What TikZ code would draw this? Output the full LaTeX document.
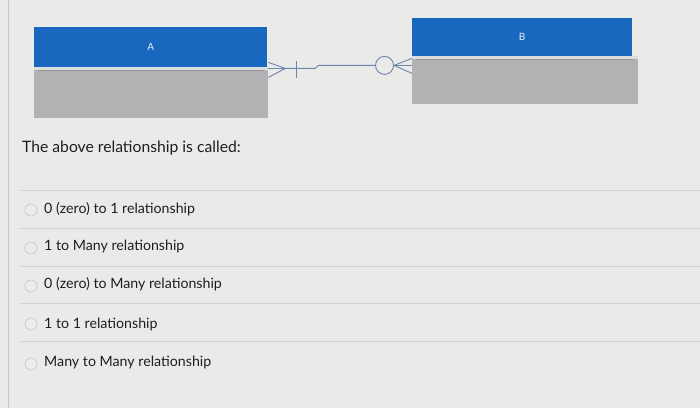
\documentclass[tikz,border=0pt]{standalone}
\usepackage{fontspec}
\setmainfont{Lato}
\definecolor{bgGray}{RGB}{234,234,233}
\definecolor{headBlue}{RGB}{24,104,192}
\definecolor{bodyGray}{RGB}{178,178,180}
\definecolor{ruleGray}{RGB}{210,210,210}
\definecolor{connBlue}{RGB}{105,135,170}
\definecolor{textDark}{RGB}{30,30,34}
\tikzset{
  head/.style={fill=headBlue, text=white!90!headBlue, anchor=north west, inner sep=0pt, font=\fontsize{10}{11}\selectfont},
  body/.style={fill=bodyGray, anchor=north west, inner sep=0pt},
  conn/.style={draw=connBlue, line width=0.9pt},
  radio/.style={circle, draw=gray!45, fill=white!85!gray, line width=0.6pt, minimum size=12pt, inner sep=0pt},
  option/.style={anchor=west, text=textDark, inner sep=0pt, font=\fontsize{14.2}{16}\selectfont},
  rule/.style={draw=ruleGray, line width=0.8pt}
}
\begin{document}
\begin{tikzpicture}[x=1pt,y=-1pt]
\fill[bgGray] (0,0) rectangle (700,408);
\useasboundingbox (0,0) rectangle (700,408);
\draw[gray!45, line width=0.6pt] (8,0) -- (8,408);

% entity A
\node[head, minimum width=233pt, minimum height=40pt] (aHead) at (34,27) {A};
\node[body, minimum width=234pt, minimum height=50pt] (aBody) at (aHead.south west) {};
\fill[white!55!bodyGray] (aBody.north west) rectangle ([yshift=-2.5pt]aBody.north east);
\draw[gray!85, line width=0.9pt] ([xshift=4pt,yshift=-3pt]aBody.north west) -- ([xshift=-4pt,yshift=-3pt]aBody.north east);

% entity B
\node[head, minimum width=220pt, minimum height=38pt] (bHead) at (412,18) {B};
\node[body, minimum width=226pt, minimum height=47pt] (bBody) at (bHead.south west) {};
\fill[white!55!bodyGray] (bBody.north west) rectangle ([yshift=-2.5pt]bBody.north east);
\draw[gray!85, line width=0.9pt] ([xshift=4pt,yshift=-3pt]bBody.north west) -- ([xshift=-4pt,yshift=-3pt]bBody.north east);

% relationship
\coordinate (aPort) at ([yshift=-1pt]aBody.north east);
\coordinate (aFoot) at ([xshift=17pt]aPort);
\coordinate (bPort) at ([yshift=-9pt]bBody.north west);
\coordinate (bFoot) at ([xshift=-18pt]bPort);
\node[circle, conn, minimum size=18pt, inner sep=0pt, anchor=east] (ring) at (bFoot) {};
\draw[conn] ([yshift=6pt]aPort) -- (aFoot) -- ([yshift=-9pt]aPort);
\draw[conn] (aPort) -- (aFoot);
\draw[conn] ([xshift=28pt,yshift=7pt]aPort) -- ([xshift=28pt,yshift=-10pt]aPort);
\draw[conn] (aFoot) -- ([xshift=47pt]aPort) -- ([xshift=50pt]aPort |- ring.west) -- (ring.west);
\draw[conn] ([yshift=7pt]bPort) -- (bFoot) -- ([yshift=-8pt]bPort);
\draw[conn] (bPort) -- (bFoot);

% question
\node[anchor=west, text=textDark, inner sep=0pt, font=\fontsize{15.7}{18}\selectfont] (question) at (22,148) {The above relationship is called:};

\foreach \y in {190,228,266,303,341} \draw[rule] (20,\y) -- (700,\y);

\node[radio] (r1) at (31,210) {};
\node[radio] (r2) at (31,248) {};
\node[radio] (r3) at (31,286) {};
\node[radio] (r4) at (31,324) {};
\node[radio] (r5) at (31,364) {};
\node[option] (o1) at (44,209) {0 (zero) to 1 relationship};
\node[option] (o2) at (44,246) {1 to Many relationship};
\node[option] (o3) at (44,284) {0 (zero) to Many relationship};
\node[option] (o4) at (44,324) {1 to 1 relationship};
\node[option] (o5) at (44,362) {Many to Many relationship};
\end{tikzpicture}
\end{document}
